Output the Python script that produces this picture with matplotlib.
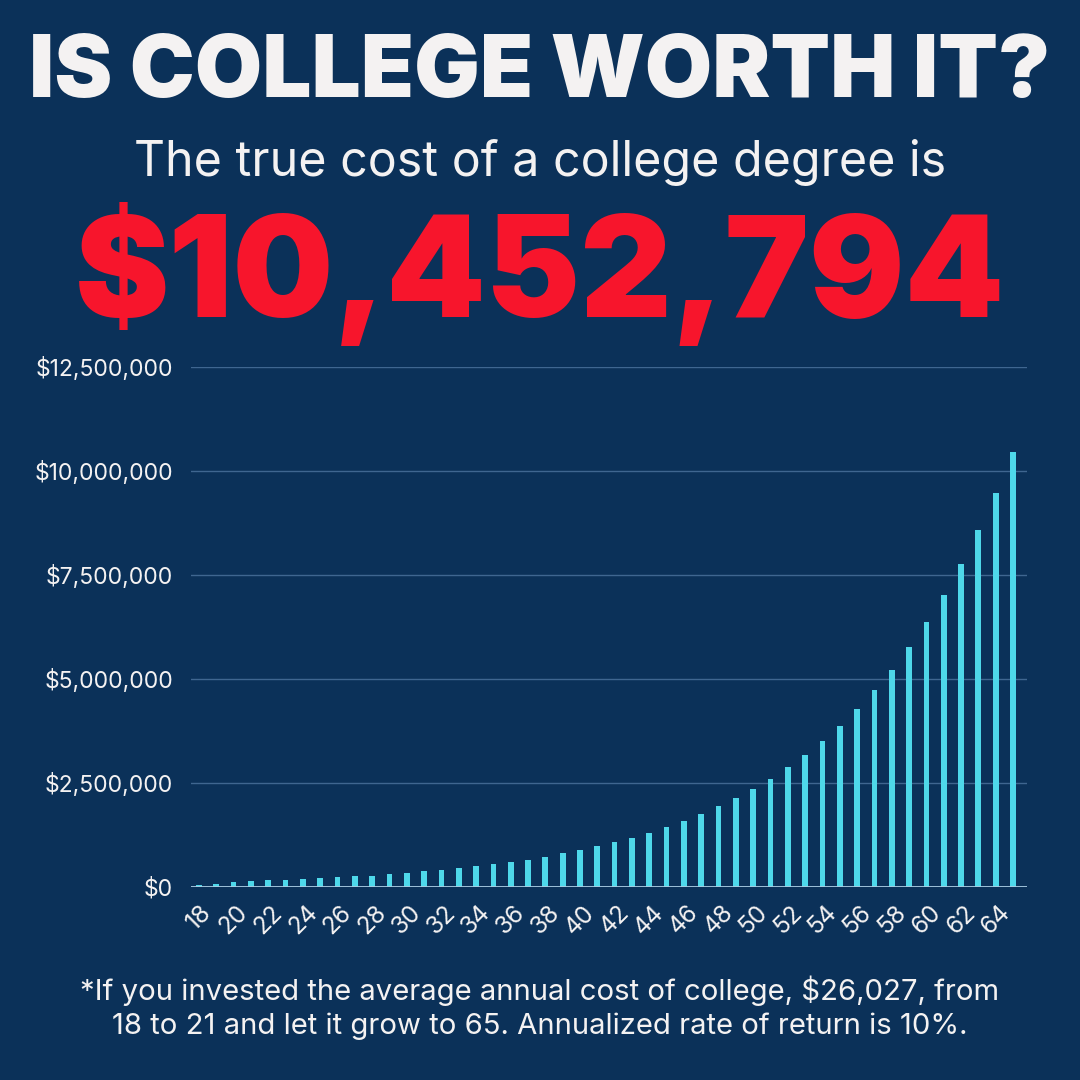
import matplotlib
matplotlib.use("Agg")
import matplotlib.pyplot as plt
from matplotlib.ticker import FuncFormatter, FixedLocator

# ---- data ----
ages = list(range(18, 66))
values_millions = [
    0.04, 0.08, 0.11, 0.15, 0.16, 0.18, 0.20, 0.22, 0.23, 0.26,   # 18-27
    0.27, 0.31, 0.34, 0.38, 0.42, 0.46, 0.50, 0.55, 0.61, 0.66,   # 28-37
    0.73, 0.81, 0.90, 0.98, 1.07, 1.18, 1.31, 1.44, 1.59, 1.76,   # 38-47
    1.94, 2.15, 2.36, 2.60, 2.88, 3.18, 3.51, 3.88, 4.29, 4.74,   # 48-57
    5.22, 5.76, 6.36, 7.03, 7.76, 8.57, 9.47, 10.46,              # 58-65
]
values = [v * 1_000_000 for v in values_millions]
y_ticks = [0, 2_500_000, 5_000_000, 7_500_000, 10_000_000, 12_500_000]
x_tick_ages = list(range(18, 65, 2))

title = "IS COLLEGE WORTH IT?"
subtitle = "The true cost of a college degree is"
headline = "$10,452,794"
footnote = ("*If you invested the average annual cost of college, $26,027, from\n"
            "18 to 21 and let it grow to 65. Annualized rate of return is 10%.")

# ---- style ----
BG = "#0B3159"
BAR = "#4ED8EA"
GRID = "#3F6690"
BASE = "#A9CCE3"
WHITE = "#F4F2F2"
RED = "#F7152C"

plt.rcParams['font.family'] = ['Inter', 'DejaVu Sans']

fig = plt.figure(figsize=(10.8, 10.8), dpi=100, facecolor=BG)
W, H = 1080, 1080
ax_left, ax_right = 191 / W, 1027 / W
ax_bottom, ax_top = (H - 887) / H, (H - 367) / H
ax = fig.add_axes([ax_left, ax_bottom, ax_right - ax_left, ax_top - ax_bottom])
ax.set_facecolor(BG)

ax.bar(ages, values, width=0.33, color=BAR, zorder=3)
ax.set_xlim(17.54, 65.81)
ax.set_ylim(0, 12_500_000)

ax.yaxis.set_major_locator(FixedLocator(y_ticks))
ax.yaxis.set_major_formatter(FuncFormatter(lambda v, p: f"${v:,.0f}"))
ax.grid(axis='y', color=GRID, linewidth=1.0, zorder=0)
ax.axhline(0, color=BASE, linewidth=1.3, zorder=4)

ax.set_xticks(x_tick_ages)
ax.set_xticklabels([str(a) for a in x_tick_ages], rotation=45, ha='center',
                   va='top', fontsize=17.5, color=WHITE)
ax.tick_params(axis='x', length=0, pad=10)
ax.tick_params(axis='y', length=0, pad=13, labelsize=16.5, labelcolor=WHITE)
for s in ax.spines.values():
    s.set_visible(False)

# ---- texts, each fitted to the width it spans in the reference ----
renderer = fig.canvas.get_renderer()


def fitted_text(y_px, s, width_px, start_size, **kw):
    t = fig.text(0.5, 1 - y_px / H, s, ha='center', va='center',
                 fontsize=start_size, **kw)
    w = t.get_window_extent(renderer=renderer).width
    t.set_fontsize(start_size * width_px / w)
    return t


fitted_text(74, title, 1020, 70, color=WHITE, fontweight='black')
fitted_text(163, subtitle, 810, 34, color=WHITE)
fitted_text(274, headline, 930, 104, color=RED, fontweight='black')
fitted_text(1008, footnote, 920, 20, color=WHITE, linespacing=1.3)

fig.savefig("out.png", dpi=100, facecolor=BG)
